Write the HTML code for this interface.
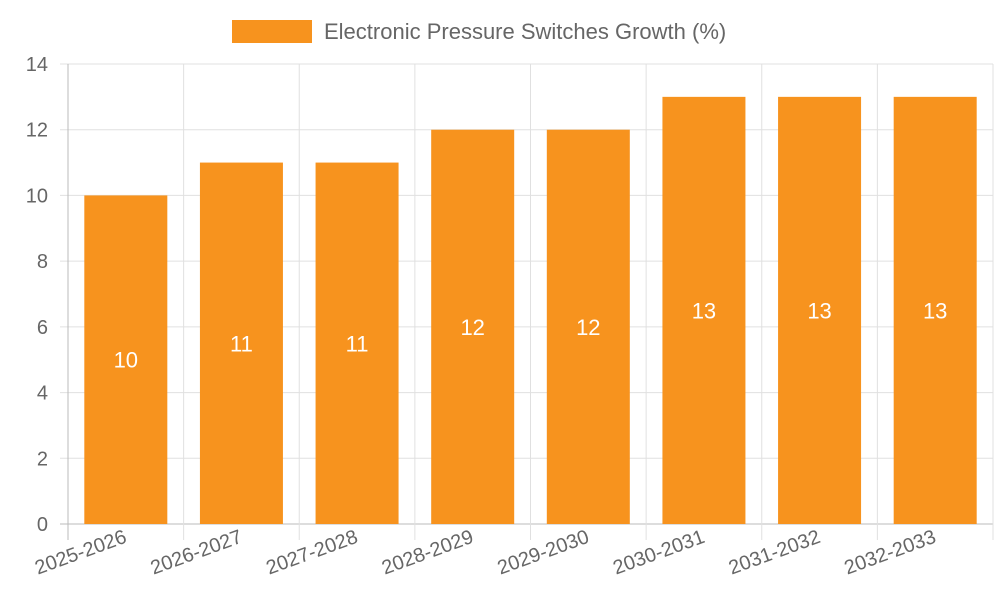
<!DOCTYPE html>
<html><head><meta charset="utf-8"><style>
body{margin:0;background:#fff;font-family:"Liberation Sans",sans-serif}
</style></head><body>
<svg id="c" width="1000" height="600" xmlns="http://www.w3.org/2000/svg" font-family="Liberation Sans, sans-serif"></svg>
<script>
const categories=["2025-2026","2026-2027","2027-2028","2028-2029","2029-2030","2030-2031","2031-2032","2032-2033"];
const values=[10,11,11,12,12,13,13,13];
const yTicks=[0,2,4,6,8,10,12,14];
const svg=document.getElementById('c');
const NS="http://www.w3.org/2000/svg";
const L=68,R=993,T=64,B=524,yMax=14;
const y=v=>B-(v/yMax)*(B-T);
const bw=(R-L)/categories.length;
const x=i=>L+i*bw;
function el(t,a,p){const e=document.createElementNS(NS,t);for(const k in a)e.setAttribute(k,a[k]);(p||svg).appendChild(e);return e;}
// legend
const lg=el('g',{});


el('rect',{x:232,y:20,width:80,height:23,fill:'#F7931E'},lg);
const lt=el('text',{x:324,y:39,'font-size':22,fill:'#666'},lg);lt.textContent="Electronic Pressure Switches Growth (%)";
// grid
yTicks.forEach(v=>{
 const g=el('line',{x1:60,x2:R,y1:y(v),y2:y(v),stroke:v===0?'#bbb':'#e0e0e0','stroke-width':1});
 
 
 const t=el('text',{x:48,y:y(v)+7,'font-size':20,fill:'#666','text-anchor':'end'});t.textContent=v;
 
 
});
for(let i=0;i<=categories.length;i++){
 const g=el('line',{x1:x(i),x2:x(i),y1:T,y2:B+16,stroke:i===0?'#bbb':'#e0e0e0','stroke-width':1});
 
 
}
categories.forEach((c,i)=>{
 const cx=x(i)+bw/2;
 const r=el('rect',{x:cx-41.5,y:y(values[i]),width:83,height:B-y(values[i]),fill:'#F7931E'});
 
 
 const vt=el('text',{x:cx,y:(y(values[i])+B)/2+8,'font-size':22,fill:'#fff','text-anchor':'middle'});vt.textContent=values[i];
 
 
 const t=el('text',{x:cx+2,y:542,'font-size':20,fill:'#666','text-anchor':'end',transform:`rotate(-20 ${cx+2} 542)`});t.textContent=c;
 
 
});
</script>
</body></html>
